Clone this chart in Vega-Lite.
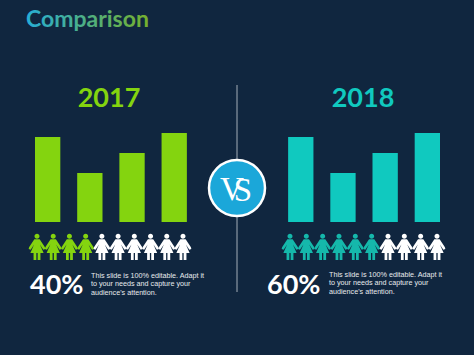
{"$schema":"https://vega.github.io/schema/vega-lite/v6.json","width":474,"height":355,"autosize":{"type":"fit","contains":"padding"},"padding":0,"background":"#10263f","config":{"view":{"stroke":null}},"datasets":{"bars":[{"year":"2017","slot":"a","value":85},{"year":"2017","slot":"b","value":49},{"year":"2017","slot":"c","value":69},{"year":"2017","slot":"d","value":89},{"year":"2018","slot":"g","value":85},{"year":"2018","slot":"h","value":49},{"year":"2018","slot":"i","value":69},{"year":"2018","slot":"j","value":89}],"p2017":[{"n":1,"r":1,"s":"2017"},{"n":2,"r":1,"s":"2017"},{"n":3,"r":1,"s":"2017"},{"n":4,"r":1,"s":"2017"},{"n":5,"r":1,"s":"rest"},{"n":6,"r":1,"s":"rest"},{"n":7,"r":1,"s":"rest"},{"n":8,"r":1,"s":"rest"},{"n":9,"r":1,"s":"rest"},{"n":10,"r":1,"s":"rest"}],"p2018":[{"n":1,"r":1,"s":"2018p"},{"n":2,"r":1,"s":"2018p"},{"n":3,"r":1,"s":"2018p"},{"n":4,"r":1,"s":"2018p"},{"n":5,"r":1,"s":"2018p"},{"n":6,"r":1,"s":"2018p"},{"n":7,"r":1,"s":"rest"},{"n":8,"r":1,"s":"rest"},{"n":9,"r":1,"s":"rest"},{"n":10,"r":1,"s":"rest"}]},"resolve":{"scale":{"x":"independent","y":"independent"}},"layer":[{"data":{"name":"bars"},"mark":{"type":"bar"},"encoding":{"x":{"field":"slot","type":"nominal","axis":null,"scale":{"domain":["a","b","c","d","e","f","g","h","i","j"],"range":[35,440],"paddingInner":0.4,"paddingOuter":0}},"y":{"field":"value","type":"quantitative","axis":null,"scale":{"domain":[0,100],"range":[222,122]}},"color":{"field":"year","type":"nominal","legend":null,"scale":{"domain":["2017","2018","2018p","rest"],"range":["#84d40f","#10c9bf","#15b8ab","#ffffff"]}}}},{"data":{"name":"p2017"},"mark":{"type":"point","filled":true,"opacity":1,"size":700,"shape":"M0,-1A0.19,0.19 0 1 1 0,-0.62A0.19,0.19 0 1 1 0,-1ZM-0.2,-0.58L0.2,-0.58L0.6,0.02L0.63,0.16L0.48,0.2L0.22,-0.18L0.5,0.45L0.26,0.45L0.26,0.98L0.05,0.98L0.05,0.45L-0.05,0.45L-0.05,0.98L-0.26,0.98L-0.26,0.45L-0.5,0.45L-0.22,-0.18L-0.48,0.2L-0.63,0.16L-0.6,0.02Z"},"encoding":{"x":{"field":"n","type":"quantitative","axis":null,"scale":{"domain":[1,10],"range":[37,183]}},"y":{"field":"r","type":"quantitative","axis":null,"scale":{"domain":[0,2],"range":[260,234]}},"color":{"field":"s","type":"nominal","legend":null}}},{"data":{"name":"p2018"},"mark":{"type":"point","filled":true,"opacity":1,"size":700,"shape":"M0,-1A0.19,0.19 0 1 1 0,-0.62A0.19,0.19 0 1 1 0,-1ZM-0.2,-0.58L0.2,-0.58L0.6,0.02L0.63,0.16L0.48,0.2L0.22,-0.18L0.5,0.45L0.26,0.45L0.26,0.98L0.05,0.98L0.05,0.45L-0.05,0.45L-0.05,0.98L-0.26,0.98L-0.26,0.45L-0.5,0.45L-0.22,-0.18L-0.48,0.2L-0.63,0.16L-0.6,0.02Z"},"encoding":{"x":{"field":"n","type":"quantitative","axis":null,"scale":{"domain":[1,10],"range":[290,437]}},"y":{"field":"r","type":"quantitative","axis":null,"scale":{"domain":[0,2],"range":[260,234]}},"color":{"field":"s","type":"nominal","legend":null}}},{"data":{"values":[{"label":"divider"}]},"mark":{"type":"rule","color":"#a3adb8","strokeWidth":1},"encoding":{"x":{"value":237},"y":{"value":85},"y2":{"value":292}}},{"data":{"values":[{"label":"VS"}]},"mark":{"type":"arc","fill":"#1ba7d9","stroke":"#ffffff","strokeWidth":2.5,"outerRadius":28,"innerRadius":0,"theta":0,"theta2":6.2832},"encoding":{"x":{"value":237},"y":{"value":188}}},{"data":{"values":[{"label":"V"}]},"mark":{"type":"text","font":"Liberation Serif","fontSize":33,"fill":"#ffffff","align":"center","baseline":"alphabetic"},"encoding":{"x":{"value":232},"y":{"value":200},"text":{"field":"label"}}},{"data":{"values":[{"label":"S"}]},"mark":{"type":"text","font":"Liberation Serif","fontSize":33,"fill":"#ffffff","align":"center","baseline":"alphabetic"},"encoding":{"x":{"value":243},"y":{"value":201},"text":{"field":"label"}}},{"data":{"values":[{"label":"Comparison"}]},"mark":{"type":"text","font":"Lato","fontWeight":"bold","fontSize":23,"align":"left","baseline":"alphabetic","fill":{"gradient":"linear","x1":0,"y1":0,"x2":1,"y2":0,"stops":[{"offset":0,"color":"#27aed6"},{"offset":1,"color":"#76b02c"}]}},"encoding":{"x":{"value":26},"y":{"value":27},"text":{"field":"label"}}},{"data":{"values":[{"label":"2017"}]},"mark":{"type":"text","font":"Lato","fontWeight":"bold","fontSize":27,"align":"center","baseline":"alphabetic","fill":"#84d40f"},"encoding":{"x":{"value":109},"y":{"value":107},"text":{"field":"label"}}},{"data":{"values":[{"label":"2018"}]},"mark":{"type":"text","font":"Lato","fontWeight":"bold","fontSize":27,"align":"center","baseline":"alphabetic","fill":"#10c9bf"},"encoding":{"x":{"value":363},"y":{"value":107},"text":{"field":"label"}}},{"data":{"values":[{"label":"40%"}]},"mark":{"type":"text","font":"Lato","fontWeight":"bold","fontSize":27,"align":"left","baseline":"alphabetic","fill":"#ffffff"},"encoding":{"x":{"value":30},"y":{"value":294},"text":{"field":"label"}}},{"data":{"values":[{"label":"60%"}]},"mark":{"type":"text","font":"Lato","fontWeight":"bold","fontSize":27,"align":"left","baseline":"alphabetic","fill":"#ffffff"},"encoding":{"x":{"value":267},"y":{"value":294},"text":{"field":"label"}}},{"data":{"values":[{"label":"This slide is 100% editable. Adapt it\nto your needs and capture your\naudience's attention."}]},"mark":{"type":"text","font":"Liberation Sans","fontSize":7.2,"align":"left","baseline":"alphabetic","fill":"#e8ebee","lineHeight":8.3,"lineBreak":"\n"},"encoding":{"x":{"value":91},"y":{"value":278},"text":{"field":"label"}}},{"data":{"values":[{"label":"This slide is 100% editable. Adapt it\nto your needs and capture your\naudience's attention."}]},"mark":{"type":"text","font":"Liberation Sans","fontSize":7.2,"align":"left","baseline":"alphabetic","fill":"#e8ebee","lineHeight":8.3,"lineBreak":"\n"},"encoding":{"x":{"value":329},"y":{"value":277},"text":{"field":"label"}}}]}
